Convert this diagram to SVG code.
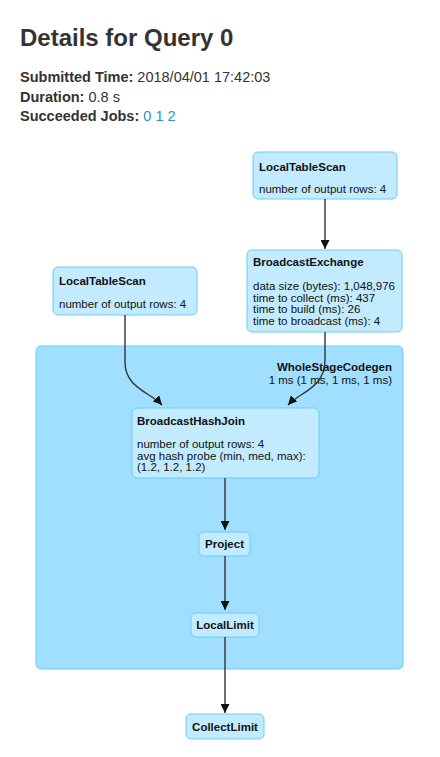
<svg xmlns="http://www.w3.org/2000/svg" width="440" height="757" viewBox="0 0 440 757">
<defs>
<style>
.hdr{font-family:"Liberation Sans",Arial,sans-serif;fill:#333}
.t{font-family:"Liberation Sans",Arial,sans-serif;font-size:11.5px;fill:#111}
.b{font-weight:bold}
.node rect{fill:#C3EBFF;stroke:#6CCBF5;stroke-width:1}
.cluster rect{fill:#A0DFFF;stroke:#6CCBF5;stroke-width:1}
.edge{fill:none;stroke:#333;stroke-width:1.4}
</style>
<marker id="arr" viewBox="0 0 10 10" refX="10" refY="5" markerWidth="9" markerHeight="9" markerUnits="userSpaceOnUse" orient="auto">
<path d="M0,0 L10,5 L0,10 z" fill="#111"/>
</marker>
</defs>
<rect width="440" height="757" fill="#fff"/>
<text class="hdr" x="20" y="46" font-size="24" font-weight="bold">Details for Query 0</text>
<text class="hdr" x="20" y="82" font-size="14.5"><tspan font-weight="bold">Submitted Time:</tspan> 2018/04/01 17:42:03</text>
<text class="hdr" x="20" y="102" font-size="14.5"><tspan font-weight="bold">Duration:</tspan> 0.8 s</text>
<text class="hdr" x="20" y="121" font-size="14.5"><tspan font-weight="bold">Succeeded Jobs:</tspan> <tspan fill="#2a8fd0">0</tspan> <tspan fill="#2a8fd0">1</tspan> <tspan fill="#2a8fd0">2</tspan></text>

<g id="cluster-wsc" class="cluster">
<rect x="36" y="346" width="367" height="323" rx="5"/>
<text class="t b" x="392" y="371" text-anchor="end">WholeStageCodegen</text>
<text class="t" x="392" y="384" text-anchor="end">1 ms (1 ms, 1 ms, 1 ms)</text>
</g>

<g id="node-lts1" class="node">
<rect x="253" y="152" width="144" height="47" rx="5"/>
<text class="t b" x="259" y="171">LocalTableScan</text>
<text class="t" x="259" y="193">number of output rows: 4</text>
</g>

<g id="node-bex" class="node">
<rect x="247" y="250" width="155" height="82" rx="5"/>
<text class="t b" x="253" y="266">BroadcastExchange</text>
<text class="t" x="253" y="290">data size (bytes): 1,048,976</text>
<text class="t" x="253" y="301.5">time to collect (ms): 437</text>
<text class="t" x="253" y="313">time to build (ms): 26</text>
<text class="t" x="253" y="324.5">time to broadcast (ms): 4</text>
</g>

<g id="node-lts2" class="node">
<rect x="53" y="267" width="144" height="48" rx="5"/>
<text class="t b" x="59" y="285">LocalTableScan</text>
<text class="t" x="59" y="308">number of output rows: 4</text>
</g>

<g id="node-bhj" class="node">
<rect x="132" y="408" width="187" height="70" rx="5"/>
<text class="t b" x="137" y="425">BroadcastHashJoin</text>
<text class="t" x="137" y="448">number of output rows: 4</text>
<text class="t" x="137" y="459.5">avg hash probe (min, med, max):</text>
<text class="t" x="137" y="471">(1.2, 1.2, 1.2)</text>
</g>

<g id="node-project" class="node">
<rect x="199" y="532" width="51" height="24" rx="5"/>
<text class="t b" x="224.5" y="548" text-anchor="middle">Project</text>
</g>

<g id="node-locallimit" class="node">
<rect x="191" y="613" width="68" height="24" rx="5"/>
<text class="t b" x="225" y="629" text-anchor="middle">LocalLimit</text>
</g>

<g id="node-collectlimit" class="node">
<rect x="186" y="714" width="78" height="25" rx="5"/>
<text class="t b" x="225" y="731" text-anchor="middle">CollectLimit</text>
</g>

<g id="edges">
<path class="edge" d="M325,199 L325,249" marker-end="url(#arr)"/>
<path class="edge" d="M125,315 L125,362 C125,388 150,392 162,405" marker-end="url(#arr)"/>
<path class="edge" d="M325,332 L325,360 C325,388 300,392 288,405" marker-end="url(#arr)"/>
<path class="edge" d="M225,478 L225,530" marker-end="url(#arr)"/>
<path class="edge" d="M225,556 L225,610" marker-end="url(#arr)"/>
<path class="edge" d="M225,637 L225,713" marker-end="url(#arr)"/>
</g>
</svg>
